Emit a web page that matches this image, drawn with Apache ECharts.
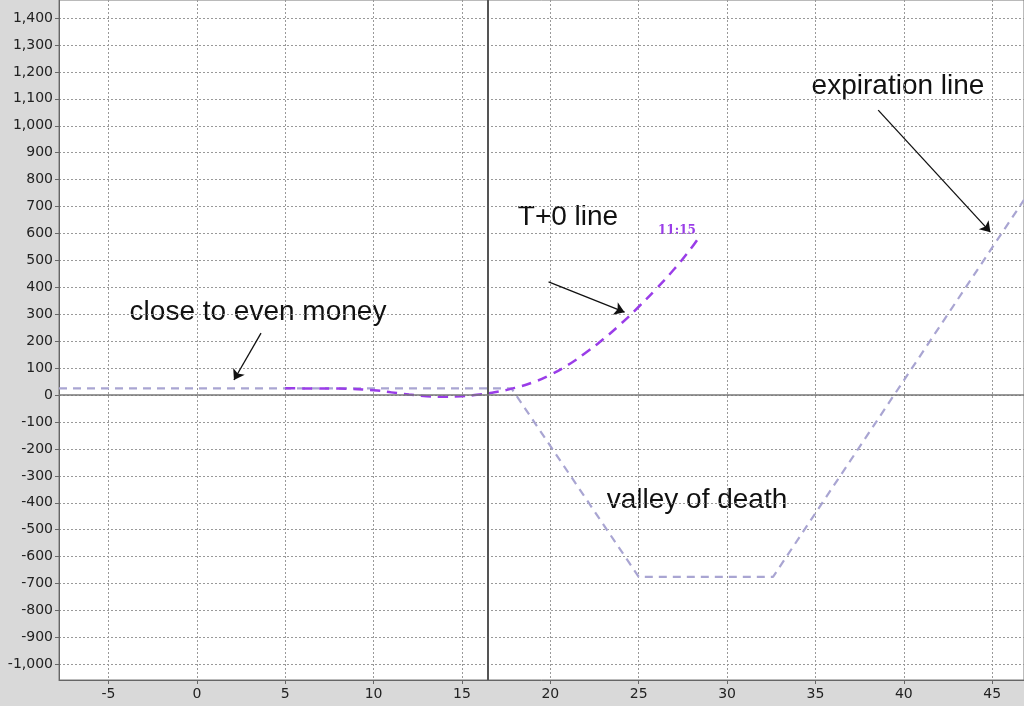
<!DOCTYPE html>
<html><head><meta charset="utf-8">
<script src="https://cdn.jsdelivr.net/npm/echarts@6/dist/echarts.min.js"></script>
<style>html,body{margin:0;padding:0;background:#d9d9d9}#c{width:1024px;height:706px}</style>
</head><body><div id="c"></div>
<script>
const xTicks = [-5,0,5,10,15,20,25,30,35,40,45];
const yTicks = [-1000,-900,-800,-700,-600,-500,-400,-300,-200,-100,0,100,200,300,400,500,600,700,800,900,1000,1100,1200,1300,1400];
const expiration = [[-7.8,25],[17.8,25],[25,-675],[32.6,-675],[46.8,725]];
const tPlus0 = [[5,25],[8,24],[10,18],[11,10],[12,2],[13,-4],[14,-6],[15,-4],[16,2],[17,12],[18,27],[19,47],[20,75],[21,112],[22,157],[23,208],[24,265],[25,328],[26,395],[27,467],[28,548],[28.5,595]];
const arrows = [
  [[3.63,230],[2.1,56]],
  [[19.9,420],[24.2,308]],
  [[38.55,1058],[44.9,605]]
];
const fmt = v => (v<0?'-':'') + Math.abs(v).toLocaleString('en-US');
const ch = echarts.init(document.getElementById('c'));
const lbl = {fontFamily:'DejaVu Sans', fontSize:14, color:'#222'};
ch.setOption({
  animation:false,
  backgroundColor:'#d9d9d9',
  grid:{left:59,right:0,top:0,bottom:26,show:true,backgroundColor:'#fff',borderColor:'#777',borderWidth:1},
  xAxis:{type:'value',min:-7.8,max:46.8,
    axisLine:{show:true,onZero:false,lineStyle:{color:'#666'}},
    axisTick:{show:true,customValues:xTicks,length:4,lineStyle:{color:'#666'}},
    axisLabel:{customValues:xTicks,...lbl,margin:7},
    splitLine:{show:true,lineStyle:{color:'#999',type:[2,2]}}},
  yAxis:{type:'value',min:-1058,max:1467,
    axisLine:{show:true,onZero:false,lineStyle:{color:'#666'}},
    axisTick:{show:true,customValues:yTicks,length:4,lineStyle:{color:'#666'}},
    axisLabel:{customValues:yTicks,...lbl,margin:6,formatter:fmt},
    splitLine:{show:true,lineStyle:{color:'#999',type:[2,2]}}},
  series:[
    {type:'line',data:expiration,symbol:'none',lineStyle:{color:'#a9a5d2',width:2.2,type:[8,6]},
     markLine:{silent:true,symbol:'none',label:{show:false},lineStyle:{color:'#555',width:2,type:'solid'},
       data:[{xAxis:16.44},{yAxis:0,lineStyle:{color:'#777',width:1.5}}]}},
    {type:'line',data:tPlus0,symbol:'none',smooth:true,lineStyle:{color:'#9a3de8',width:2.5,type:[10,7]}},
    {type:'line',data:[],markLine:{silent:true,symbol:['none','arrow'],symbolSize:10,label:{show:false},
      lineStyle:{color:'#111',width:1.3,type:'solid'},
      data:arrows.map(a=>[{coord:a[0]},{coord:a[1]}])}}
  ],
  graphic:[
    {type:'text',x:258,y:312,style:{text:'close to even money',font:'28px "Liberation Sans"',fill:'#111',align:'center',verticalAlign:'middle'}},
    {type:'text',x:568,y:217,style:{text:'T+0 line',font:'28px "Liberation Sans"',fill:'#111',align:'center',verticalAlign:'middle'}},
    {type:'text',x:697,y:500,style:{text:'valley of death',font:'28px "Liberation Sans"',fill:'#111',align:'center',verticalAlign:'middle'}},
    {type:'text',x:898,y:86,style:{text:'expiration line',font:'28px "Liberation Sans"',fill:'#111',align:'center',verticalAlign:'middle'}},
    {type:'text',x:677,y:231,style:{text:'11:15',font:'bold 12px "DejaVu Serif"',fill:'#9a3de8',align:'center',verticalAlign:'middle'}}
  ]
});
</script></body></html>
